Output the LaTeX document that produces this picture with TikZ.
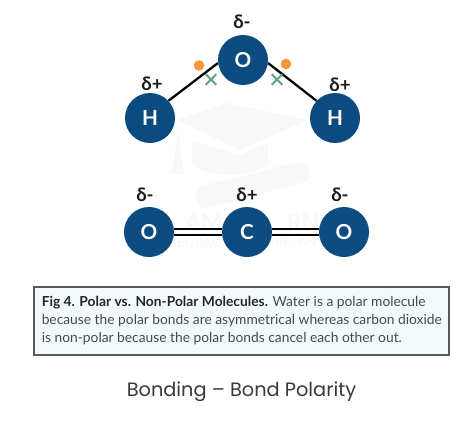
\documentclass[tikz,border=0pt]{standalone}
\usepackage{xcolor}
\usepackage{fontspec}
\setmainfont{Lato}
\newfontfamily\titlefont{Poppins}
\usetikzlibrary{positioning, calc, shapes.misc}
\definecolor{atomblue}{HTML}{0B4B7F}
\definecolor{dotorange}{HTML}{F59A3C}
\definecolor{crossgreen}{HTML}{5FA184}
\definecolor{capbg}{HTML}{F4FAFC}
\definecolor{capbd}{HTML}{55595C}
\definecolor{capink}{HTML}{44494F}
\definecolor{titleink}{HTML}{3A3A3A}
\definecolor{markgray}{HTML}{F8F8F8}
\tikzset{
  atom/.style={circle, fill=atomblue, minimum size=37.5pt, inner sep=0pt, text=white, font=\bfseries\fontsize{15.5}{15.5}\selectfont},
  charge/.style={font=\bfseries\fontsize{14}{14}\selectfont, text=black!90, inner sep=0pt},
  bond/.style={draw=black, line width=1.7pt},
  dbond/.style={draw=black, line width=1.7pt},
  edot/.style={circle, fill=dotorange, minimum size=8pt, inner sep=0pt},
  ecross/.style={cross out, draw=crossgreen, line width=1.5pt, minimum size=6.5pt, inner sep=0pt},
  wmark/.style={text=markgray, inner sep=0pt},
}
\begin{document}
\begin{tikzpicture}[x=0.75pt, y=-0.75pt]
\useasboundingbox (0,0) rectangle (474,432);
\fill[white] (0,0) rectangle (474,432);
% watermark
\fill[markgray] (177,120)--(227,103)--(307,120)--(240,150)--cycle;
\fill[markgray] (192,141)--(240,155)--(268,143)--(268,165) .. controls (250,178) and (210,178) .. (192,165)--cycle;
\fill[markgray] (178,132)--(184,174)--(172,174)--cycle;
\fill[markgray, rounded corners=6pt] (194,188)--(306,160)--(312,180)--(200,210)--cycle;
\node[wmark, font=\bfseries\fontsize{17}{17}\selectfont] (wmam) at (204,222) {AM};
\node[wmark, font=\bfseries\fontsize{17}{17}\selectfont] (wmrn) at (303,222) {RN};
\node[wmark, font=\fontsize{10}{10}\selectfont] (wmfb) at (195,243) {EEDBAC};
\node[wmark, font=\fontsize{10}{10}\selectfont] (wmany) at (298,243) {ME, ANY};
% water
\node[atom] (oxy) at (243,60) {O};
\node[atom] (hleft) at (150,118) {H};
\node[atom] (hright) at (335,118) {H};
\draw[bond] (oxy.187)--(hleft.43);
\draw[bond] (oxy.353)--(hright.137);
\node[charge] (qoxy) at (242,22) {δ-};
\node[charge] (qhleft) at (152,84) {δ+};
\node[charge] (qhright) at (340,85) {δ+};
\node[edot] (dotl) at (199,65.5) {};
\node[edot] (dotr) at (286,64) {};
\node[ecross] (crossl) at (211,79.5) {};
\node[ecross] (crossr) at (277,79.5) {};
% carbon dioxide
\node[atom] (cen) at (247,232) {C};
\node[atom] (oleft) at (149,232) {O};
\node[atom] (oright) at (344,232) {O};
\draw[dbond] ($(oleft.east)+(0,-2.8)$)--($(cen.west)+(0,-2.8)$);
\draw[dbond] ($(oleft.east)+(0,2.8)$)--($(cen.west)+(0,2.8)$);
\draw[dbond] ($(cen.east)+(0,-2.8)$)--($(oright.west)+(0,-2.8)$);
\draw[dbond] ($(cen.east)+(0,2.8)$)--($(oright.west)+(0,2.8)$);
\node[charge] (qoleft) at (145,195) {δ-};
\node[charge] (qcen) at (247,195) {δ+};
\node[charge] (qoright) at (340,195) {δ-};
% caption
\node[draw=capbd, fill=capbg, line width=1.2pt, minimum width=311pt, minimum height=51pt, inner sep=0pt] (capbox) at (241.5,321) {};
\node[anchor=west, inner sep=0pt, align=left, text=capink, font=\fontsize{10.35}{13.5}\selectfont] (captext) at (41.5,320.5)
  {\textbf{\textcolor{black!85}{Fig 4. Polar vs. Non-Polar Molecules.}} Water is a polar molecule\\because the polar bonds are asymmetrical whereas carbon dioxide\\is non-polar because the polar bonds cancel each other out.};
\node[text=titleink, inner sep=0pt, font=\titlefont\fontsize{14.5}{15}\selectfont] (title) at (241.5,392) {Bonding – Bond Polarity};
\end{tikzpicture}
\end{document}
